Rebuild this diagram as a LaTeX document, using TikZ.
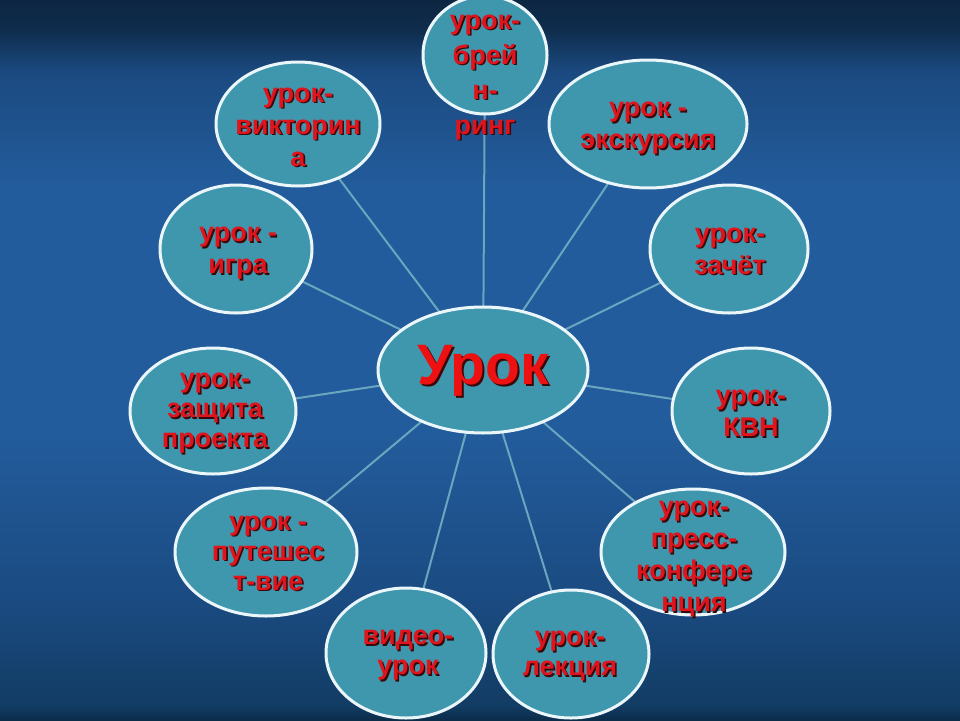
\documentclass[tikz,border=0pt]{standalone}
\usepackage{fontspec}
\setmainfont{Liberation Sans}
\usetikzlibrary{shapes.geometric}
\pgfdeclarelayer{bg}
\pgfdeclarelayer{lines}
\pgfsetlayers{bg,lines,main}
\definecolor{bubfill}{HTML}{3F97AE}
\definecolor{bubedge}{HTML}{EAF6FA}
\definecolor{linkc}{HTML}{6AA6BF}
\definecolor{txtred}{HTML}{E0141C}
\definecolor{bigred}{HTML}{EE1111}
\definecolor{shadowc}{HTML}{3A0808}
\pgfdeclareverticalshading{bgsh}{100bp}{%
  color(0bp)=(rgb,255:red,12;green,45;blue,74);
  color(25bp)=(rgb,255:red,12;green,45;blue,74);
  color(26bp)=(rgb,255:red,18;green,60;blue,100);
  color(33bp)=(rgb,255:red,26;green,74;blue,128);
  color(45bp)=(rgb,255:red,35;green,92;blue,156);
  color(62bp)=(rgb,255:red,35;green,92;blue,156);
  color(70bp)=(rgb,255:red,27;green,74;blue,128);
  color(73bp)=(rgb,255:red,15;green,44;blue,76);
  color(75bp)=(rgb,255:red,13;green,38;blue,66);
  color(100bp)=(rgb,255:red,13;green,38;blue,66)}
\newcommand\shd[1]{\makebox[0pt][l]{\kern1.6pt\raisebox{-1.6pt}{\color{shadowc}#1}}#1}
\newcommand\bshd[1]{\makebox[0pt][l]{\kern2pt\raisebox{-2pt}{\color{shadowc}#1}}#1}
\begin{document}
\begin{tikzpicture}[x=1pt,y=-1pt,
  bub/.style={ellipse, draw=bubedge, line width=3pt, fill=bubfill, inner sep=0pt},
  lbl/.style={align=center, text=txtred, font=\bfseries\fontsize{27}{32}\selectfont, inner sep=0pt},
  link/.style={draw=linkc, line width=2pt}]
\useasboundingbox (0,0) rectangle (960,720);
\begin{pgfonlayer}{bg}
\shade[shading=bgsh] (0,0) rectangle (960,720);
\end{pgfonlayer}
% bubbles
\node[bub, minimum width=210pt, minimum height=126pt] (c) at (483,370) {};
\node[bub, minimum width=124pt, minimum height=118pt] (brain) at (485,55) {};
\node[bub, minimum width=164pt, minimum height=124pt] (vikt) at (298,124) {};
\node[bub, minimum width=198pt, minimum height=128pt] (eksk) at (648,124) {};
\node[bub, minimum width=152pt, minimum height=128pt] (igra) at (236,249) {};
\node[bub, minimum width=158pt, minimum height=128pt] (zach) at (729,249) {};
\node[bub, minimum width=166pt, minimum height=126pt] (zash) at (213,411) {};
\node[bub, minimum width=158pt, minimum height=126pt] (kvn) at (751,411) {};
\node[bub, minimum width=182pt, minimum height=128pt] (put) at (266,552) {};
\node[bub, minimum width=184pt, minimum height=126pt] (press) at (693,552) {};
\node[bub, minimum width=160pt, minimum height=130pt] (video) at (406,653) {};
\node[bub, minimum width=156pt, minimum height=128pt] (lek) at (571,654) {};
% connectors
\begin{pgfonlayer}{lines}
\foreach \n in {brain,vikt,eksk,igra,zach,zash,kvn,put,press,video,lek}
  \draw[link] (c.center) -- (\n.center);
\end{pgfonlayer}
% texts
\node[text=bigred, font=\bfseries\fontsize{57}{60}\selectfont, inner sep=0pt] (ct) at (483,372) {\bshd{Урок}};
\node[lbl, font=\bfseries\fontsize{27}{35}\selectfont] (brain-t) at (485,78) {\shd{урок-}\\\shd{брей}\\\shd{н-}\\\shd{ринг}};
\node[lbl] (vikt-t) at (298,128) {\shd{урок-}\\\shd{викторин}\\\shd{а}};
\node[lbl] (eksk-t) at (648,129) {\shd{урок -}\\\shd{экскурсия}};
\node[lbl] (igra-t) at (238,254) {\shd{урок -}\\\shd{игра}};
\node[lbl] (zach-t) at (730,252) {\shd{урок-}\\\shd{зачёт}};
\node[lbl, font=\bfseries\fontsize{27}{30}\selectfont] (zash-t) at (215,414) {\shd{урок-}\\\shd{защита}\\\shd{проекта}};
\node[lbl] (kvn-t) at (751,414) {\shd{урок-}\\\shd{КВН}};
\node[lbl, font=\bfseries\fontsize{27}{30}\selectfont] (put-t) at (268,554) {\shd{урок -}\\\shd{путешес}\\\shd{т-вие}};
\node[lbl] (press-t) at (694,560) {\shd{урок-}\\\shd{пресс-}\\\shd{конфере}\\\shd{нция}};
\node[lbl, font=\bfseries\fontsize{27}{30}\selectfont] (video-t) at (408,656) {\shd{видео-}\\\shd{урок}};
\node[lbl, font=\bfseries\fontsize{27}{30}\selectfont] (lek-t) at (570,657) {\shd{урок-}\\\shd{лекция}};
\end{tikzpicture}
\end{document}
